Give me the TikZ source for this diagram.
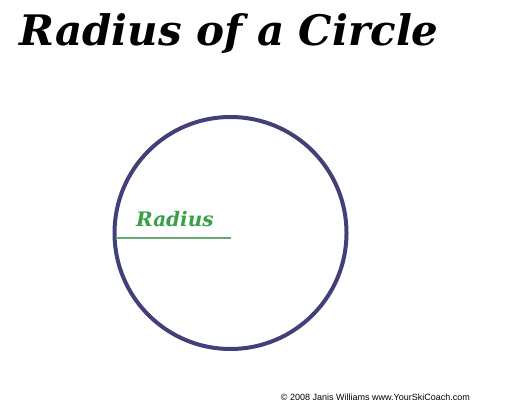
\documentclass[tikz,border=0pt]{standalone}
\usepackage{fontspec}
\newfontfamily\notefont{Liberation Sans}
\newfontfamily\headfont{DejaVu Serif}
\usetikzlibrary{positioning}
\definecolor{color1}{RGB}{66,64,120}
\definecolor{color2}{RGB}{104,168,112}
\definecolor{color3}{RGB}{58,160,72}

\begin{document}
\begin{tikzpicture}[x=1pt,y=-1pt,
    heading/.style={anchor=base west,inner sep=0pt,font=\headfont\fontsize{42}{42}\selectfont\bfseries\itshape},
    tag/.style={anchor=base west,inner sep=0pt,text=color3,font=\headfont\fontsize{20}{20}\selectfont\bfseries\itshape},
    credit/.style={anchor=base east,inner sep=0pt,font=\notefont\fontsize{9}{9}\selectfont}]
		\useasboundingbox (0,0) rectangle (513,411);
		\node[heading] (title) at (19,46) {Radius of a Circle};
		
		% the circle and its radius
		\coordinate (centre) at (230.5,233);
		\draw[color1,line width=4pt] (centre) circle[radius=116];
		\coordinate (rim) at (116,238);
		\coordinate (mid) at (231,238);
		\draw[color2,line width=1.8pt] (rim) -- (mid);
		\node[tag] (label) at (136,227) {Radius};
		
		\node[credit] (note) at (470,400) {\textcopyright{} 2008 Janis Williams www.YourSkiCoach.com};
		\end{tikzpicture}
\end{document}
